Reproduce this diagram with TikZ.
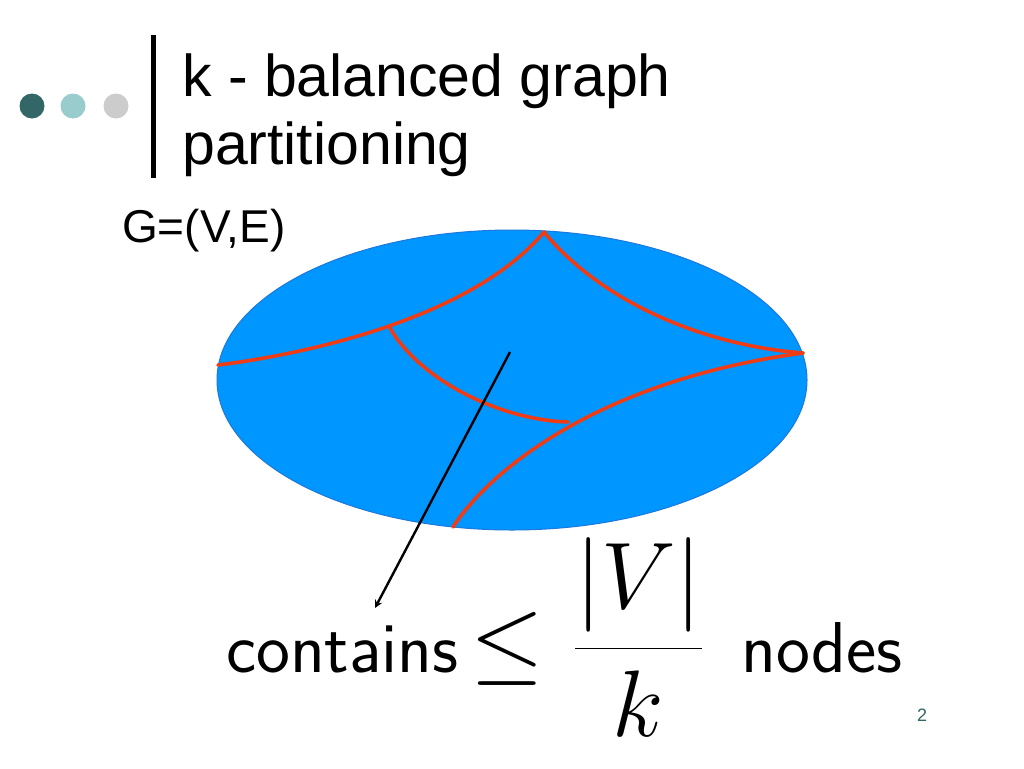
\documentclass[tikz,border=0pt]{standalone}
\usepackage{fontspec}
\usepackage{graphicx}
\setmainfont{Liberation Sans}
\definecolor{cutred}{RGB}{240,60,20}
\definecolor{blob}{RGB}{0,150,255}
\definecolor{blobedge}{RGB}{30,120,220}
\definecolor{teald}{RGB}{51,102,102}
\definecolor{teall}{RGB}{153,204,204}
\definecolor{greyl}{RGB}{204,204,204}
\begin{document}
\begin{tikzpicture}[x=1pt,y=-1pt,
  cut/.style={draw=cutred,line width=3.6pt,line cap=round},
  dot/.style={circle,inner sep=0pt,minimum size=25pt}]
\useasboundingbox[fill=white] (0,0) rectangle (1024,768);
\node[dot,fill=teald] (d1) at (32,106) {};
\node[dot,fill=teall] (d2) at (73,106) {};
\node[dot,fill=greyl] (d3) at (116,106) {};
\draw[line width=5pt] (153,35) -- (153,178);
\node[anchor=base west,inner sep=0pt,font=\fontsize{59}{70}\selectfont] (t1) at (182,96) {k - balanced graph};
\node[anchor=base west,inner sep=0pt,font=\fontsize{59}{70}\selectfont] (t2) at (182,164) {partitioning};
\node[anchor=base west,inner sep=0pt,font=\fontsize{46}{54}\selectfont] (g) at (122,242) {G=(V,E)};
\filldraw[fill=blob,draw=blobedge,line width=1pt] (512,380) ellipse [x radius=295, y radius=150];
\coordinate (L) at (218,365);
\coordinate (A) at (390,328);
\coordinate (T) at (544,232);
\coordinate (R) at (803,353);
\coordinate (M) at (568,422);
\coordinate (B) at (453,527);
\draw[cut] (L) .. controls (300,355) and (470,320) .. (T);
\draw[cut] (T) .. controls (600,300) and (700,345) .. (R);
\draw[cut] (B) .. controls (490,470) and (600,380) .. (R);
\draw[cut] (A) .. controls (420,380) and (500,420) .. (M);
\coordinate (s) at (510,352);
\coordinate (e) at (375,608);
\draw[-stealth,line width=2.4pt] (s) -- (e);
\node[anchor=base west,inner sep=0pt,font=\sffamily\fontsize{72}{80}\selectfont] (c) at (226,672) {contains\,\scalebox{3.8}{$\leq\displaystyle\frac{|V|}{k}$}\, nodes};
\node[font=\fontsize{18}{20}\selectfont,text=teald] (p) at (922,715) {2};
\end{tikzpicture}
\end{document}
